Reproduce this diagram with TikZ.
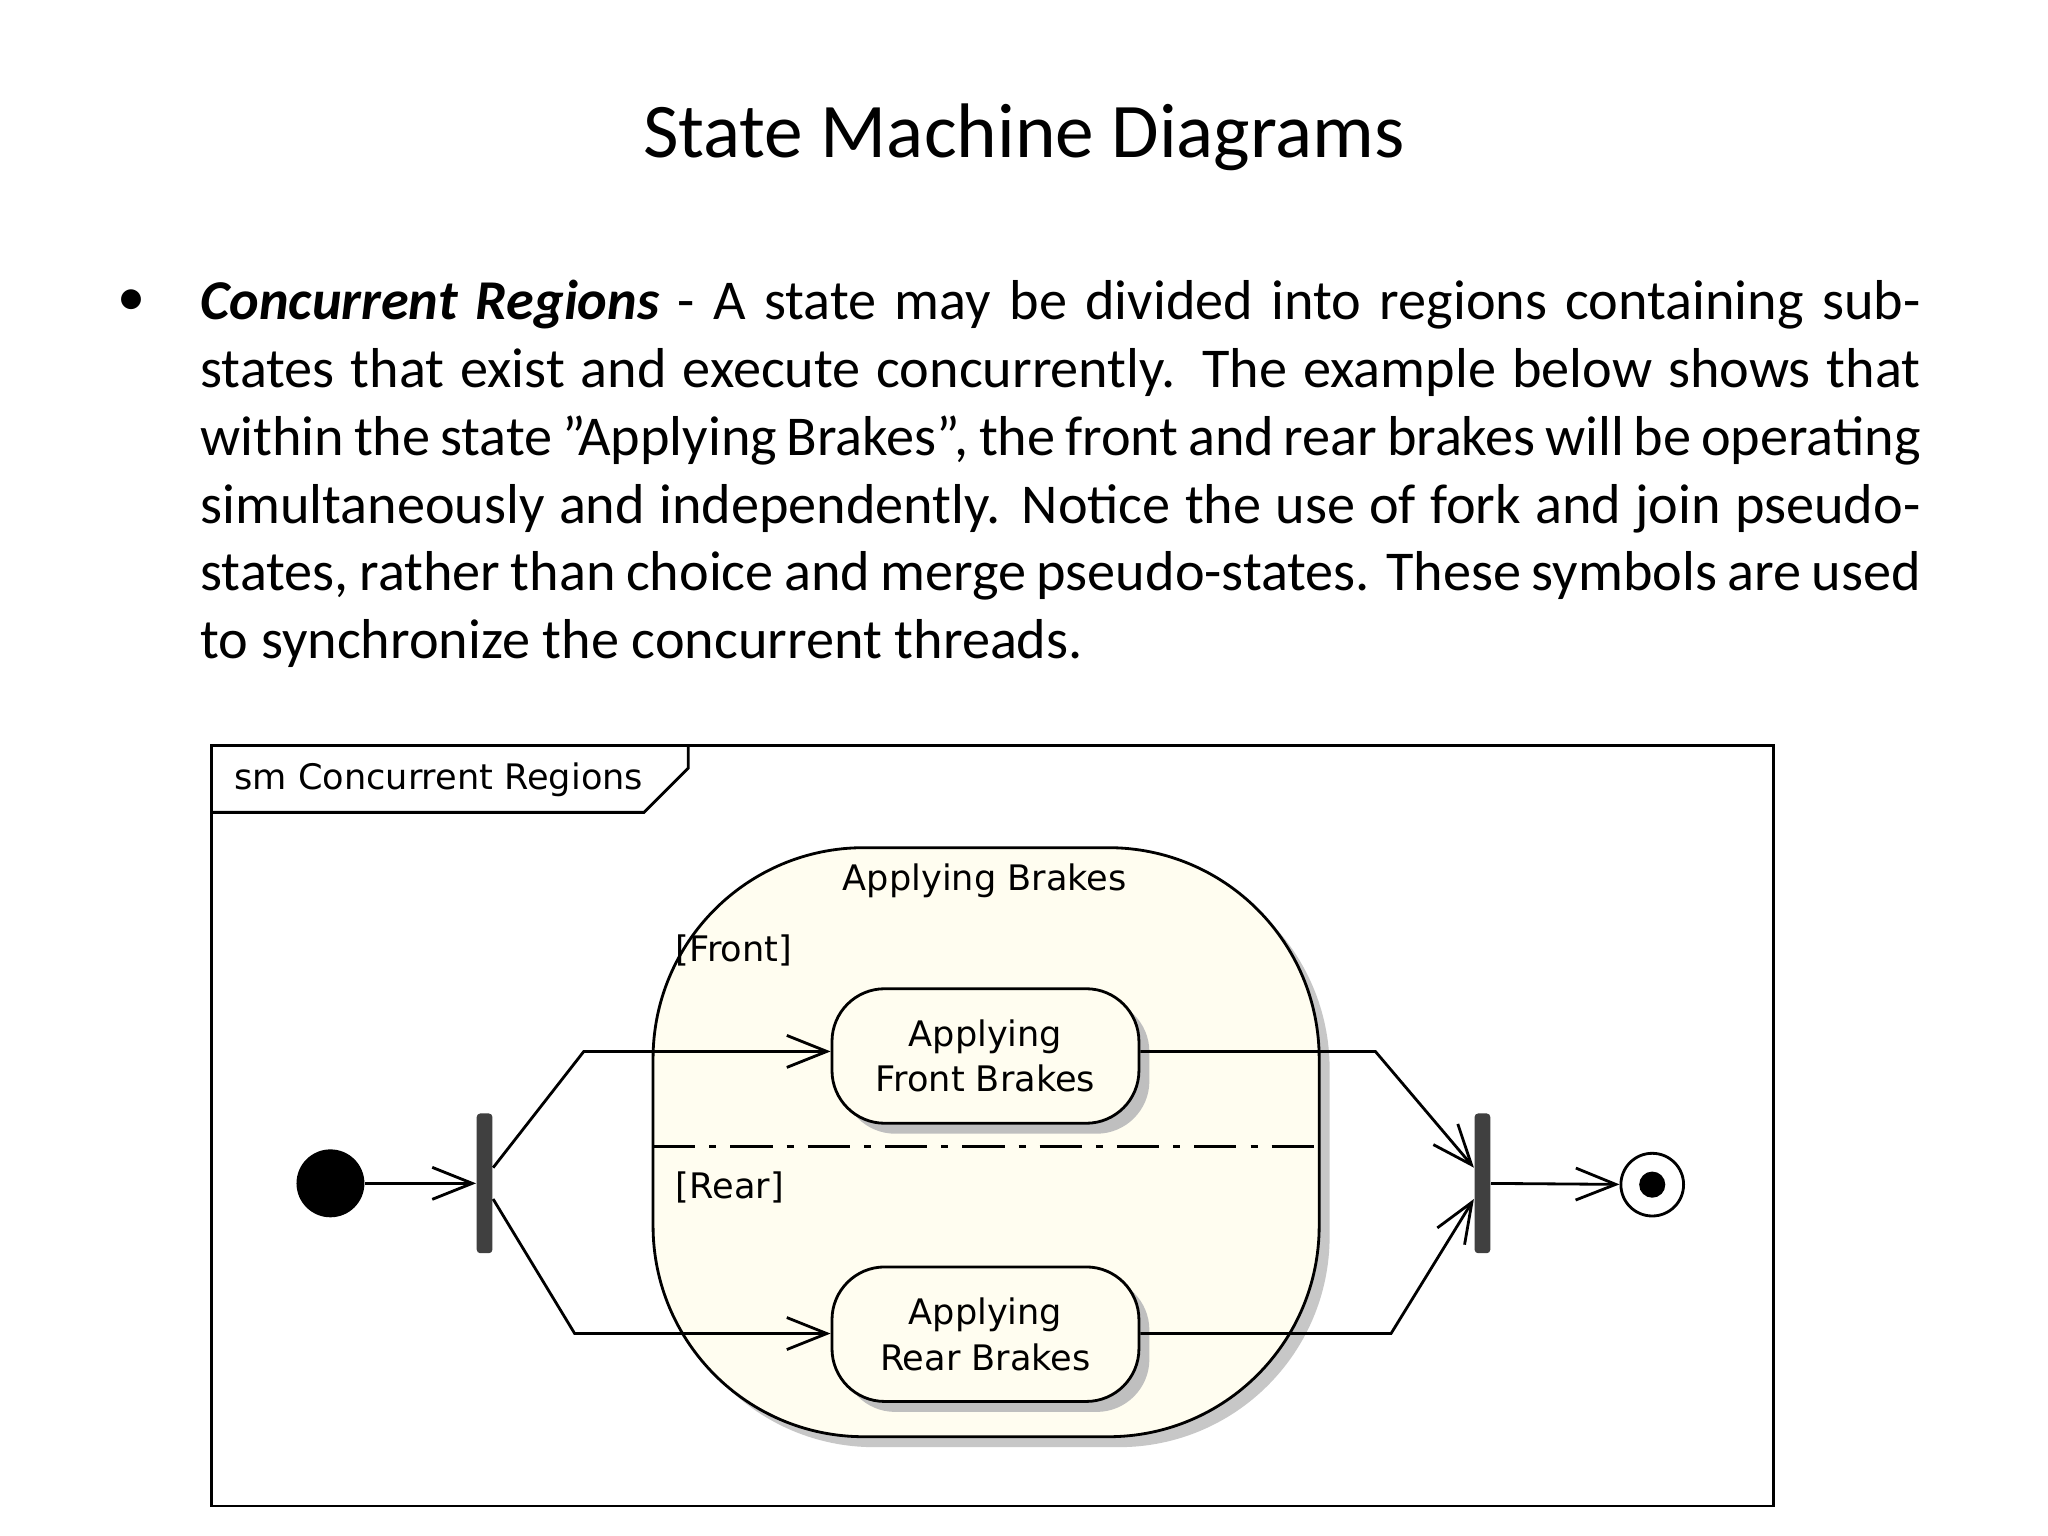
\documentclass[tikz,border=0pt]{standalone}
\usepackage{fontspec}
\setmainfont{Carlito}
\newfontfamily\pix{DejaVu Sans}
\usetikzlibrary{arrows.meta,calc}
\definecolor{cream}{HTML}{FFFDF0}
\definecolor{bar}{HTML}{404040}
\begin{document}
\begin{tikzpicture}[x=0.013061cm,y=-0.013061cm,
  st/.style={draw,thick,rounded corners=15,fill=cream,minimum width=235*0.013061cm,minimum height=103*0.013061cm,align=center,font=\pix\fontsize{10}{13}\selectfont},
  lbl/.style={font=\pix\fontsize{10}{12}\selectfont},
  fb/.style={fill=bar,draw=none,rounded corners=1,minimum width=12*0.013061cm,minimum height=107*0.013061cm,inner sep=0},
  tr/.style={thick,-{Straight Barb[length=4mm,width=3.2mm]}}]
\useasboundingbox (0,0) rectangle (1568,1176);
\fill[white] (0,0) rectangle (1568,1176);
\node[font=\fontsize{22}{26}\selectfont] (title) at (784,105) {State Machine Diagrams};
\node[font=\fontsize{16}{19.5}\selectfont] (bul) at (101,232) {\textbullet};
\node[anchor=north west,inner sep=0,text width=1317*0.013061cm,align=justify,font=\fontsize{16}{19.3}\selectfont] (body) at (153,214)
{\textbf{\textit{Concurrent Regions}} - A state may be divided into regions containing sub-states that exist and execute concurrently. The example below shows that within the state "Applying Brakes", the front and rear brakes will be operating simultaneously and independently. Notice the use of fork and join pseudo-states, rather than choice and merge pseudo-states. These symbols are used to synchronize the concurrent threads.};
% frame
\draw[thick] (162,571) rectangle (1358,1153);
\draw[thick] (162,622) -- (493,622) -- (527,588) -- (527,571);
\node[lbl,anchor=west] (sm) at (170,597) {sm Concurrent Regions};
% composite
\fill[black!22,rounded corners=60] (508,657) rectangle (1018,1108);
\draw[thick,fill=cream,rounded corners=60] (500,649) rectangle (1010,1100);
\node[lbl] (ab) at (754,674) {Applying Brakes};
\node[lbl,anchor=west] (fr) at (508,728) {[Front]};
\node[lbl,anchor=west] (rr) at (508,909) {[Rear]};
\draw[thick,dash pattern=on 12pt off 4pt on 2pt off 4pt] (500,878) -- (1010,878);
% states
\fill[black!25,rounded corners=15] (645,765) rectangle (880,868);
\fill[black!25,rounded corners=15] (645,978) rectangle (880,1081);
\node[st] (front) at (754.5,808.5) {Applying\\Front Brakes};
\node[st] (rear) at (754.5,1021.5) {Applying\\Rear Brakes};
% pseudo states
\node[circle,fill=black,minimum size=52*0.013061cm,inner sep=0] (init) at (253,906) {};
\node[fb] (fork) at (371,906) {};
\node[fb] (join) at (1135,906) {};
\node[circle,draw,thick,fill=white,minimum size=48*0.013061cm,inner sep=0] (fin) at (1265,907) {};
\fill (fin.center) circle[radius=10*0.013061cm];
% transitions
\draw[tr] (init) -- (fork);
\coordinate (f1) at (447,805); \coordinate (f2) at (440,1021);
\coordinate (j1) at (1053,805); \coordinate (j2) at (1065,1021);
\draw[tr] ($(fork.east)+(0,-12)$) -- (f1) -- (front.west |- f1);
\draw[tr] ($(fork.east)+(0,12)$) -- (f2) -- (rear.west |- f2);
\draw[tr] (front.east |- j1) -- (j1) -- ($(join.west)+(0,-12)$);
\draw[tr] (rear.east |- j2) -- (j2) -- ($(join.west)+(0,12)$);
\draw[tr] (join) -- (fin);
\end{tikzpicture}
\end{document}
